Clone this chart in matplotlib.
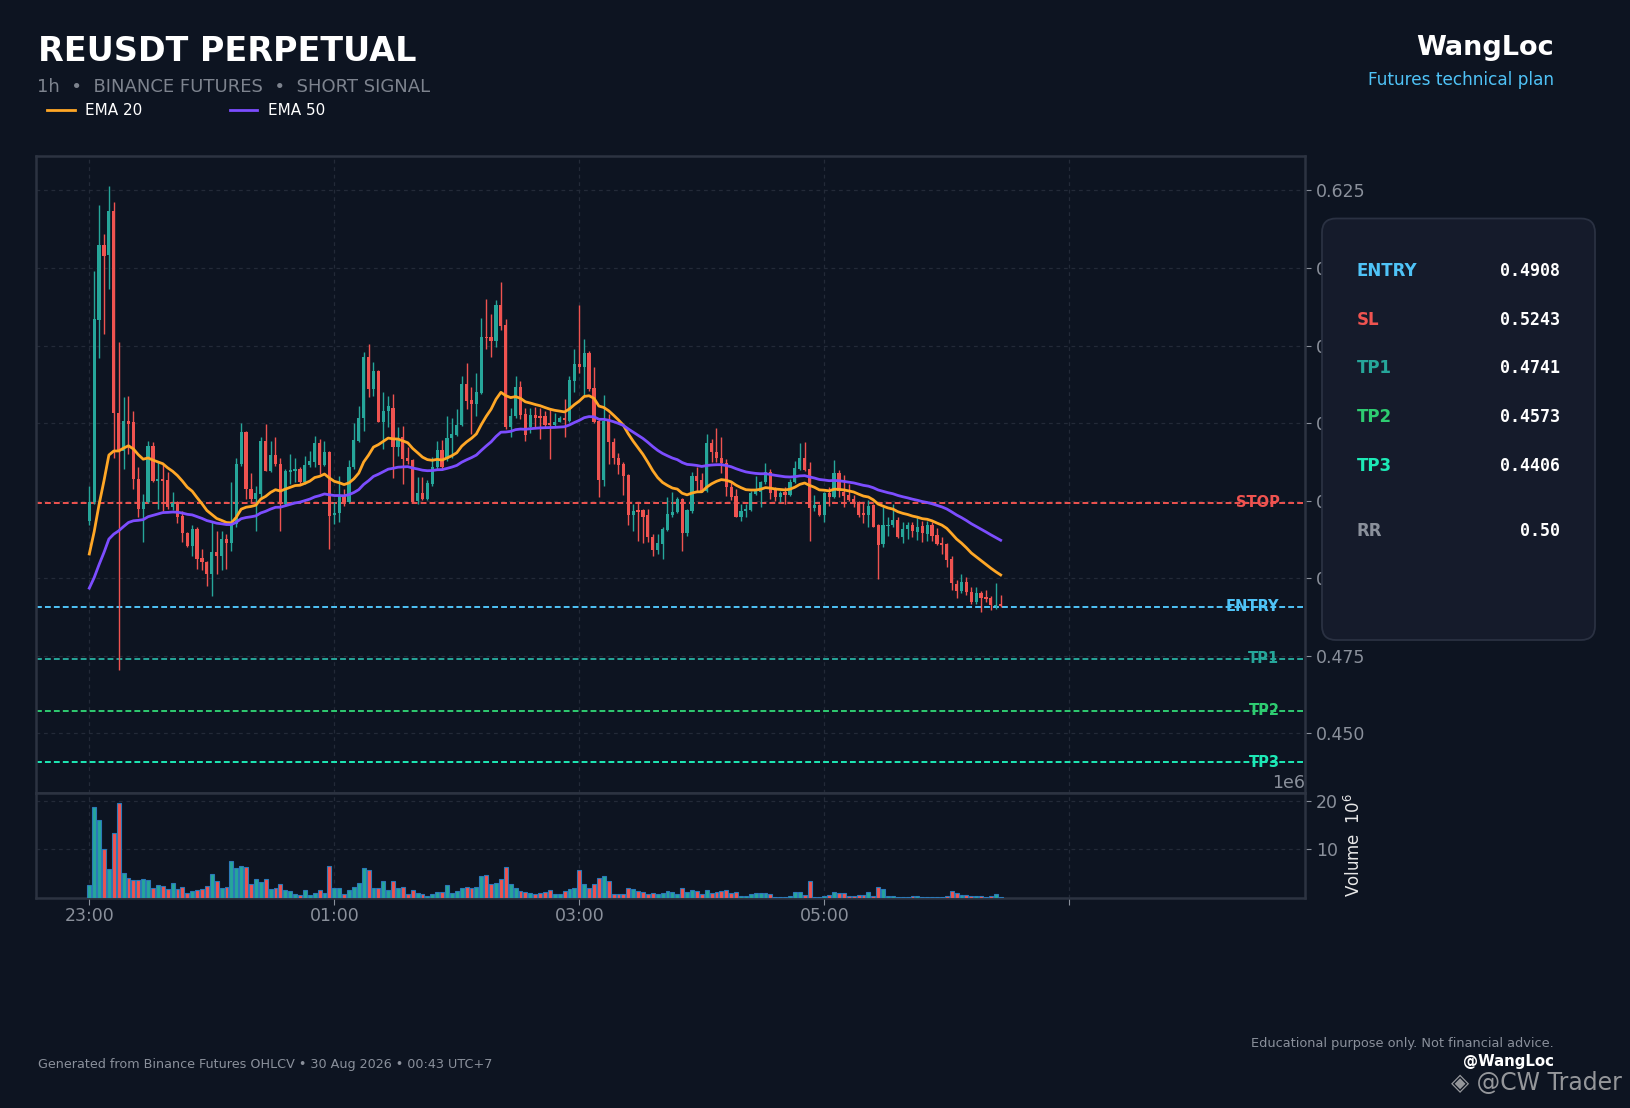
import numpy as np
import pandas as pd
import matplotlib
matplotlib.use("Agg")
import matplotlib.pyplot as plt
from matplotlib.patches import FancyBboxPatch
from matplotlib.ticker import MultipleLocator, FixedLocator, ScalarFormatter

# ---- data (1h candles) ----
times = pd.date_range("2026-08-21 23:00", periods=187, freq="h")

opens = [
    .5186, .5245, .5833, .6073, .6042, .6183, .5534, .5411, .5508, .5502,
    .5320, .5223, .5245, .5427, .5314, .5320, .5317, .5229, .5245, .5202,
    .5145, .5105, .5159, .5064, .5051, .5014, .5084, .5070, .5127, .5113,
    .5175, .5368, .5470, .5288, .5255, .5271, .5443, .5347, .5397, .5368,
    .5239, .5343, .5347, .5352, .5309, .5365, .5373, .5435, .5366, .5406,
    .5205, .5209, .5266, .5245, .5357, .5443, .5515, .5713, .5609, .5668,
    .5505, .5538, .5550, .5424, .5454, .5387, .5381, .5250, .5274, .5255,
    .5304, .5357, .5413, .5384, .5451, .5462, .5494, .5626, .5574, .5561,
    .5597, .5779, .5776, .5765, .5880, .5816, .5486, .5524, .5615, .5529,
    .5486, .5526, .5524, .5524, .5499, .5495, .5505, .5516, .5508, .5636,
    .5690, .5681, .5727, .5612, .5508, .5317, .5508, .5438, .5389, .5368,
    .5333, .5205, .5220, .5220, .5204, .5132, .5091, .5110, .5156, .5205,
    .5212, .5255, .5146, .5218, .5330, .5317, .5282, .5435, .5408, .5389,
    .5372, .5295, .5266, .5198, .5216, .5220, .5271, .5277, .5309, .5343,
    .5288, .5261, .5277, .5269, .5309, .5352, .5389, .5352, .5225, .5236,
    .5205, .5274, .5261, .5338, .5279, .5269, .5255, .5247, .5209, .5205,
    .5236, .5172, .5110, .5167, .5170, .5188, .5134, .5157, .5170, .5150,
    .5167, .5143, .5172, .5140, .5113, .5110, .5062, .4982, .4960, .4989,
    .4957, .4923, .4952, .4941, .4937, .4911, .4917,
]
highs = [
    .5298, .5990, .6203, .6108, .6264, .6214, .5760, .5583, .5588, .5538,
    .5359, .5271, .5443, .5438, .5373, .5368, .5343, .5277, .5250, .5218,
    .5148, .5172, .5164, .5094, .5057, .5180, .5153, .5153, .5143, .5309,
    .5389, .5499, .5475, .5338, .5298, .5454, .5497, .5443, .5454, .5386,
    .5352, .5400, .5389, .5359, .5395, .5411, .5459, .5449, .5443, .5411,
    .5245, .5330, .5288, .5381, .5499, .5556, .5730, .5754, .5698, .5672,
    .5599, .5588, .5594, .5486, .5491, .5422, .5384, .5325, .5327, .5317,
    .5392, .5443, .5445, .5524, .5515, .5545, .5652, .5695, .5615, .5663,
    .5840, .5901, .5851, .5896, .5956, .5837, .5550, .5652, .5636, .5550,
    .5550, .5553, .5550, .5540, .5545, .5534, .5524, .5579, .5652, .5738,
    .5880, .5770, .5733, .5681, .5513, .5590, .5529, .5451, .5402, .5373,
    .5336, .5239, .5245, .5223, .5223, .5143, .5143, .5164, .5261, .5277,
    .5261, .5260, .5223, .5341, .5359, .5338, .5465, .5449, .5483, .5454,
    .5384, .5314, .5288, .5239, .5239, .5282, .5330, .5314, .5370, .5352,
    .5295, .5282, .5295, .5320, .5377, .5435, .5438, .5373, .5269, .5239,
    .5277, .5295, .5382, .5349, .5334, .5304, .5269, .5250, .5247, .5252,
    .5239, .5175, .5231, .5196, .5239, .5196, .5180, .5180, .5180, .5196,
    .5186, .5186, .5180, .5162, .5132, .5113, .5070, .4995, .5014, .5003,
    .4973, .4971, .4960, .4962, .4944, .4984, .4947,
]
lows = [
    .5170, .5239, .5711, .5786, .5931, .5389, .4703, .5352, .5400, .5288,
    .5196, .5116, .5243, .5309, .5223, .5218, .5223, .5220, .5177, .5116,
    .5102, .5073, .5030, .5025, .4976, .4944, .5014, .5025, .5030, .5089,
    .5164, .5363, .5255, .5245, .5153, .5255, .5344, .5341, .5363, .5153,
    .5234, .5304, .5309, .5304, .5304, .5357, .5357, .5336, .5363, .5094,
    .5175, .5180, .5234, .5243, .5352, .5438, .5475, .5585, .5588, .5502,
    .5416, .5486, .5322, .5395, .5304, .5368, .5243, .5239, .5252, .5252,
    .5298, .5352, .5349, .5377, .5389, .5459, .5491, .5545, .5465, .5524,
    .5593, .5738, .5713, .5744, .5799, .5481, .5456, .5518, .5513, .5443,
    .5467, .5486, .5449, .5486, .5384, .5486, .5502, .5454, .5502, .5599,
    .5663, .5591, .5604, .5499, .5263, .5298, .5368, .5368, .5336, .5269,
    .5172, .5153, .5119, .5113, .5116, .5073, .5078, .5062, .5153, .5196,
    .5210, .5089, .5137, .5209, .5282, .5277, .5277, .5373, .5373, .5338,
    .5266, .5252, .5196, .5186, .5196, .5218, .5269, .5229, .5304, .5255,
    .5250, .5245, .5239, .5266, .5306, .5349, .5346, .5119, .5218, .5202,
    .5180, .5234, .5259, .5263, .5231, .5248, .5231, .5196, .5177, .5166,
    .5164, .4998, .5100, .5137, .5164, .5130, .5113, .5127, .5132, .5123,
    .5116, .5119, .5121, .5108, .5078, .5035, .4962, .4937, .4952, .4947,
    .4917, .4917, .4890, .4923, .4896, .4901, .4906,
]
closes = [
    .5245, .5835, .6073, .6039, .6183, .5534, .5411, .5508, .5497, .5320,
    .5223, .5245, .5427, .5314, .5319, .5314, .5229, .5241, .5198, .5145,
    .5105, .5159, .5062, .5051, .5014, .5084, .5070, .5127, .5113, .5170,
    .5368, .5470, .5288, .5255, .5274, .5443, .5347, .5397, .5368, .5239,
    .5347, .5349, .5352, .5309, .5365, .5379, .5435, .5366, .5406, .5202,
    .5209, .5266, .5245, .5359, .5445, .5515, .5713, .5609, .5668, .5505,
    .5540, .5554, .5424, .5445, .5384, .5379, .5245, .5274, .5255, .5306,
    .5359, .5413, .5359, .5451, .5465, .5494, .5626, .5572, .5561, .5599,
    .5779, .5774, .5765, .5880, .5813, .5486, .5524, .5615, .5527, .5462,
    .5527, .5516, .5518, .5495, .5495, .5505, .5516, .5511, .5638, .5690,
    .5681, .5727, .5609, .5502, .5317, .5508, .5438, .5389, .5365, .5330,
    .5205, .5216, .5215, .5198, .5132, .5091, .5113, .5159, .5207, .5212,
    .5255, .5146, .5220, .5330, .5314, .5282, .5435, .5406, .5389, .5370,
    .5295, .5263, .5198, .5216, .5223, .5274, .5284, .5309, .5343, .5274,
    .5261, .5274, .5269, .5309, .5355, .5389, .5349, .5225, .5236, .5205,
    .5274, .5261, .5338, .5282, .5266, .5252, .5245, .5205, .5205, .5234,
    .5166, .5108, .5170, .5172, .5188, .5134, .5159, .5170, .5151, .5164,
    .5145, .5172, .5137, .5110, .5108, .5060, .4984, .4960, .4989, .4955,
    .4923, .4952, .4937, .4934, .4912, .4914, .4911,
]
volume_m = [
    2.7, 18.8, 16.1, 10.0, 6.0, 13.3, 19.6, 5.2, 4.1, 3.7,
    3.7, 3.9, 3.7, 2.1, 2.7, 2.5, 1.7, 3.1, 1.7, 2.2,
    0.9, 1.3, 1.5, 1.7, 2.5, 4.9, 3.5, 2.1, 2.3, 7.6,
    6.2, 6.6, 6.4, 2.9, 3.9, 3.3, 3.9, 1.7, 2.1, 2.9,
    1.5, 1.3, 0.7, 0.5, 1.5, 0.5, 0.9, 1.5, 0.9, 6.6,
    1.9, 1.9, 0.8, 1.6, 2.3, 3.0, 6.1, 5.7, 1.9, 1.9,
    3.4, 1.5, 3.4, 1.9, 2.3, 0.8, 1.5, 0.9, 0.8, 0.3,
    0.7, 1.1, 1.1, 2.6, 0.9, 1.3, 2.1, 2.3, 1.9, 2.3,
    4.4, 4.6, 2.8, 3.0, 3.8, 6.3, 2.8, 2.1, 1.3, 1.1,
    0.9, 0.7, 0.9, 1.1, 1.5, 0.7, 0.7, 1.3, 1.7, 1.9,
    5.7, 2.8, 1.9, 2.8, 4.0, 4.4, 3.4, 0.8, 0.8, 0.8,
    2.1, 1.7, 1.3, 1.1, 0.7, 0.9, 0.7, 0.9, 1.3, 1.1,
    0.7, 1.9, 1.1, 1.5, 1.3, 0.7, 1.5, 0.9, 1.1, 1.3,
    1.5, 0.9, 1.1, 0.4, 0.4, 0.7, 0.9, 0.9, 0.9, 0.7,
    0.2, 0.2, 0.2, 0.4, 1.1, 1.1, 0.6, 3.4, 0.2, 0.2,
    0.4, 0.6, 1.1, 0.9, 0.9, 0.4, 0.4, 0.6, 0.6, 1.1,
    0.4, 2.3, 1.7, 0.4, 0.4, 0.2, 0.2, 0.2, 0.4, 0.4,
    0.2, 0.2, 0.2, 0.2, 0.2, 0.4, 1.3, 0.9, 0.6, 0.6,
    0.4, 0.4, 0.4, 0.2, 0.4, 0.7, 0.2,
]

# EMA values at the first visible candle (history before the window)
ema20_start = 0.5078
ema50_start = 0.4968

entry, sl, tp1, tp2, tp3, rr = 0.4908, 0.5243, 0.4741, 0.4573, 0.4406, 0.50
level_names = ["STOP", "ENTRY", "TP1", "TP2", "TP3"]
level_values = [sl, entry, tp1, tp2, tp3]
panel_names = ["ENTRY", "SL", "TP1", "TP2", "TP3", "RR"]
panel_values = ["0.4908", "0.5243", "0.4741", "0.4573", "0.4406", "0.50"]

# ---- colours ----
BG = "#0d1421"
PANEL = "#151b2b"
GRID = "#232a38"
SPINE = "#2c3341"
TICK = "#8a909b"
UP = "#26a69a"
DOWN = "#ef5350"
C_ENTRY = "#4fc3f7"
C_TP2 = "#2ecc71"
C_TP3 = "#1de9b6"
level_colors = [DOWN, C_ENTRY, UP, C_TP2, C_TP3]
panel_colors = [C_ENTRY, DOWN, UP, C_TP2, C_TP3, "#8a909b"]


def ema(values, span, first):
    a = 2.0 / (span + 1)
    out = [first]
    for v in values[1:]:
        out.append(out[-1] + a * (v - out[-1]))
    return np.array(out)


o = np.array(opens)
h = np.array(highs)
l = np.array(lows)
c = np.array(closes)
vol = np.array(volume_m) * 1e6
x = np.arange(len(c))
up = c >= o
cols = np.where(up, UP, DOWN)

fig = plt.figure(figsize=(16.31, 11.08), dpi=100, facecolor=BG)
ax = fig.add_axes([0.0223, 0.2847, 0.7781, 0.5745], facecolor=BG)
axv = fig.add_axes([0.0223, 0.1898, 0.7781, 0.0949], facecolor=BG, sharex=ax)

# candles
ax.vlines(x, l, h, colors=cols, linewidth=1.0, zorder=3)
ax.bar(x, np.maximum(np.abs(c - o), 0.0003), bottom=np.minimum(o, c),
       width=0.65, color=cols, linewidth=0, zorder=4)

# EMAs
e20, = ax.plot(x, ema(c, 20, ema20_start), color="#ffa726", lw=2.0, zorder=5, label="EMA 20")
e50, = ax.plot(x, ema(c, 50, ema50_start), color="#7c4dff", lw=2.0, zorder=5, label="EMA 50")

# level lines
for name, val, col in zip(level_names, level_values, level_colors):
    ax.axhline(val, color=col, lw=1.4, ls=(0, (3, 1.6)), zorder=2)
    ax.text(0.9795, val, name, transform=ax.get_yaxis_transform(), color=col,
            fontsize=10.5, fontweight="bold", ha="right", va="center", zorder=6)

ax.set_xlim(-10.8, 248.2)
ax.set_ylim(0.4309, 0.6361)
ax.yaxis.set_major_locator(MultipleLocator(0.025))
ax.yaxis.tick_right()
ax.tick_params(axis="y", colors=TICK, labelsize=12.5, length=4)
ax.tick_params(axis="x", length=0, labelbottom=False)

# volume
axv.bar(x, vol, width=0.8, color=cols, edgecolor="#2b79b8", linewidth=0.8, zorder=3)
axv.set_ylim(0, 21.7e6)
axv.yaxis.set_major_locator(FixedLocator([10e6, 20e6]))
vfmt = ScalarFormatter(useOffset=False)
vfmt.set_powerlimits((6, 6))
axv.yaxis.set_major_formatter(vfmt)
axv.yaxis.tick_right()
axv.yaxis.set_offset_position("right")
axv.yaxis.set_label_position("right")
axv.set_ylabel("Volume  $10^{6}$", color="#e8e8e8", fontsize=12, labelpad=4)
axv.tick_params(axis="y", colors=TICK, labelsize=12.5, length=4)
axv.yaxis.get_offset_text().set_color(TICK)
axv.yaxis.get_offset_text().set_fontsize(12.5)

tick_pos = [0, 50, 100, 150, 200]
tick_lab = [times[i].strftime("%H:%M") if i < len(times) else "" for i in tick_pos]
axv.set_xticks(tick_pos)
axv.set_xticklabels(tick_lab)
axv.tick_params(axis="x", colors=TICK, labelsize=12.5, length=5, pad=2)

for a in (ax, axv):
    a.grid(True, color=GRID, ls=(0, (3, 3)), lw=0.9, zorder=0)
    a.set_axisbelow(True)
    for s in a.spines.values():
        s.set_color(SPINE)
        s.set_linewidth(1.8)

# header
fig.text(0.0234, 0.9449, "REUSDT PERPETUAL", color="white", fontsize=24,
         fontweight="bold", va="baseline")
fig.text(0.0228, 0.9170, "1h  \u2022  BINANCE FUTURES  \u2022  SHORT SIGNAL",
         color="#7d838e", fontsize=13, va="baseline")
fig.legend(handles=[e20, e50], loc="upper left", bbox_to_anchor=(0.029, 0.9066),
           ncol=2, frameon=False, fontsize=11, labelcolor="white", handlelength=1.8,
           handletextpad=0.7, columnspacing=5.7, borderpad=0, borderaxespad=0)
fig.text(0.9528, 0.9504, "WangLoc", color="white", fontsize=19.5,
         fontweight="bold", ha="right", va="baseline")
fig.text(0.9528, 0.9233, "Futures technical plan", color=C_ENTRY, fontsize=12.2,
         ha="right", va="baseline")

# side panel
panel = FancyBboxPatch((13.22, 4.68), 2.73, 4.215,
                       boxstyle="round,pad=0,rounding_size=0.14",
                       transform=fig.dpi_scale_trans, facecolor=PANEL,
                       edgecolor="#2a3142", linewidth=1.3, zorder=10)
fig.patches.append(panel)
row_y = [0.7554, 0.7112, 0.6676, 0.6239, 0.5797, 0.5210]
for name, val, col, yy in zip(panel_names, panel_values, panel_colors, row_y):
    fig.text(0.8320, yy, name, color=col, fontsize=12, fontweight="bold",
             va="center", zorder=11)
    fig.text(0.9565, yy, val, color="white", fontsize=12, fontweight="bold",
             family="DejaVu Sans Mono", ha="right", va="center", zorder=11)

# footer
fig.text(0.0230, 0.0361,
         "Generated from Binance Futures OHLCV \u2022 30 Aug 2026 \u2022 00:43 UTC+7",
         color="#8a909b", fontsize=9.2, va="baseline")
fig.text(0.9528, 0.0555, "Educational purpose only. Not financial advice.",
         color="#8a909b", fontsize=9.25, ha="right", va="baseline")
fig.text(0.9528, 0.0375, "@WangLoc", color="white", fontsize=10.8,
         fontweight="bold", ha="right", va="baseline")
fig.text(0.9945, 0.0160, "\u25c8 @CW Trader", color="#cfcfcf", alpha=0.7,
         fontsize=17, ha="right", va="baseline")

fig.savefig("out.png", dpi=100, facecolor=BG)
